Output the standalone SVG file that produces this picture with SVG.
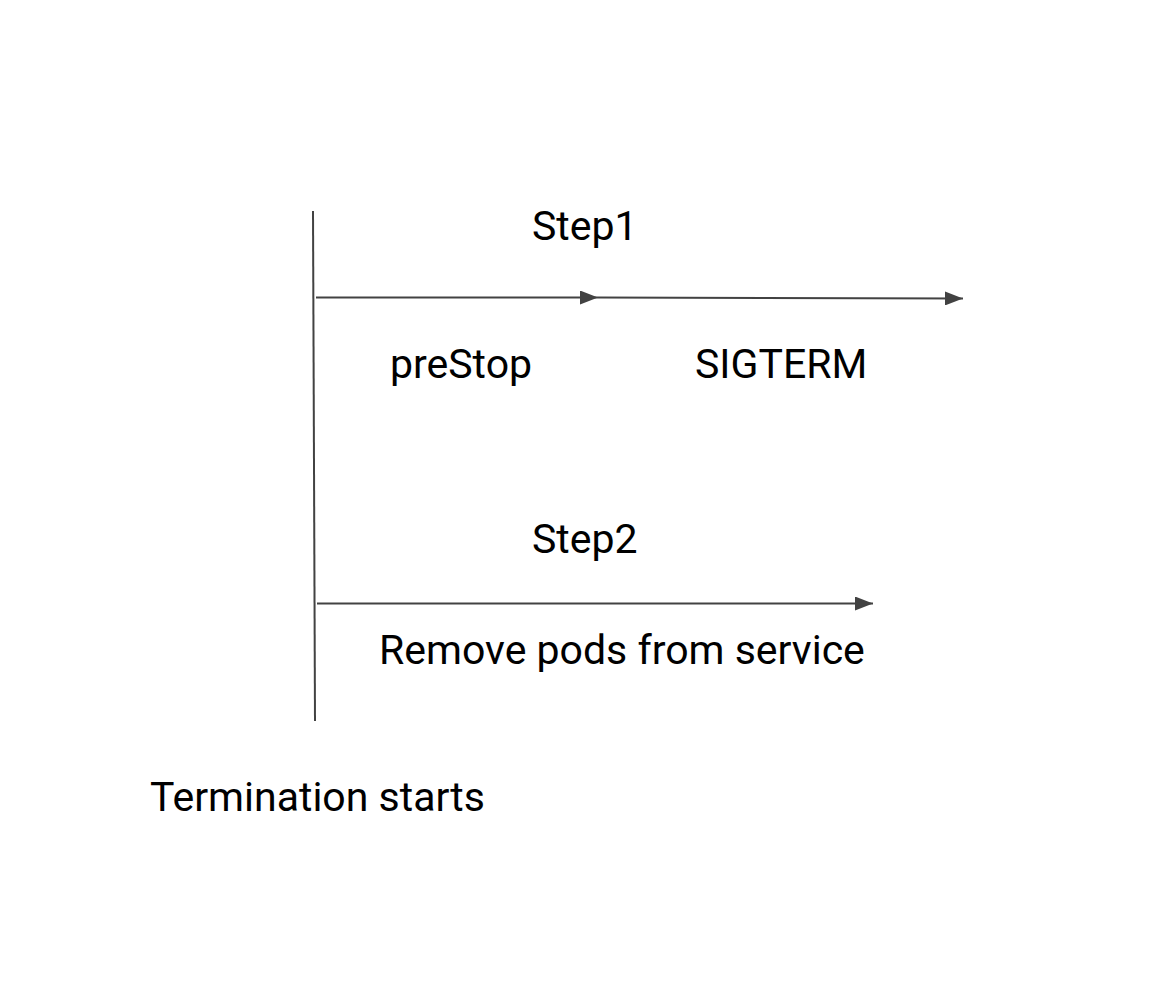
<svg xmlns="http://www.w3.org/2000/svg" width="1162" height="994" viewBox="0 0 1162 994">
<style>
text{font-family:Roboto,"Liberation Sans",sans-serif;font-size:41px;fill:#000}
.ln{stroke:#424242;stroke-width:2;fill:none}
</style>
<defs>
<marker id="ah" markerWidth="9" markerHeight="7" refX="9" refY="3.5" orient="auto" markerUnits="strokeWidth">
<path d="M0,0 L9,3.5 L0,7 Z" fill="#424242"/>
</marker>
</defs>
<rect width="1162" height="994" fill="#fff"/>
<g id="connectors">
<path class="ln" d="M313,211 L315,721"/>
<path class="ln" d="M316,297.5 L598,297.5" marker-end="url(#ah)"/>
<path class="ln" d="M598,297.5 L963,298.5" marker-end="url(#ah)"/>
<path class="ln" d="M317,603.5 L873,603.5" marker-end="url(#ah)"/>
</g>
<g id="step1"><text x="532" y="240">Step1</text></g>
<g id="prestop"><text x="390" y="378">preStop</text></g>
<g id="sigterm"><text x="695" y="378">SIGTERM</text></g>
<g id="step2"><text x="532" y="553">Step2</text></g>
<g id="remove"><text x="379" y="664">Remove pods from service</text></g>
<g id="termination"><text x="150" y="811">Termination starts</text></g>
</svg>
